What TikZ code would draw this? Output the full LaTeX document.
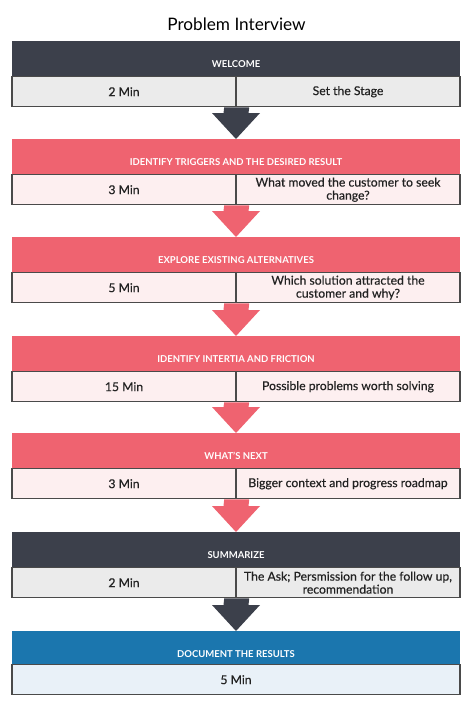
\documentclass[tikz,border=0pt]{standalone}
\usepackage{fontspec}
\setmainfont{Lato}
\newfontfamily\medfont[FakeBold=0.35]{Lato}
\usetikzlibrary{calc}
\definecolor{darkhd}{HTML}{3C404B}
\definecolor{pinkhd}{HTML}{EF6370}
\definecolor{bluehd}{HTML}{1B76AE}
\definecolor{grayrow}{HTML}{EBEBEB}
\definecolor{pinkrow}{HTML}{FDEFF0}
\definecolor{bluerow}{HTML}{E9F1F8}
\definecolor{rowline}{HTML}{4A4A4A}
\definecolor{txt}{HTML}{222222}
\newcommand{\flowarrow}[3]{%
  \fill[#3] ($(#1)+(-12.5,0)$) -- ($(#1)+(12.5,0)$) -- ($(#2)+(12.5,-26)$)
    -- ($(#2)+(24,-26)$) -- (#2) -- ($(#2)+(-24,-26)$) -- ($(#2)+(-12.5,-26)$) -- cycle;}
\begin{document}
\begin{tikzpicture}[x=1pt,y=-1pt,
  hdr/.style={rectangle, inner sep=0pt, minimum width=448pt, minimum height=35pt,
    text height=17pt, text depth=0pt, text=white, anchor=north,
    font=\bfseries\fontsize{9.5}{10}\selectfont},
  cell/.style={rectangle, inner sep=0pt, minimum width=224pt, minimum height=30pt,
    draw=rowline, line width=1.4pt, text=txt, align=center, anchor=north,
    font=\medfont\fontsize{12.2}{13}\selectfont},
  wide/.style={cell, minimum width=448pt}
]
\useasboundingbox (0,0) rectangle (474,705);
\fill[white] (0,0) rectangle (474,705);

\node[font=\fontsize{17.2}{20}\selectfont, text=black, anchor=base] (title) at (236.5,30) {Problem Interview};

% headers
\node[hdr, fill=darkhd] (h1) at (236,41) {WELCOME};
\node[hdr, fill=pinkhd] (h2) at (236,139) {IDENTIFY TRIGGERS AND THE DESIRED RESULT};
\node[hdr, fill=pinkhd] (h3) at (236,237) {EXPLORE EXISTING ALTERNATIVES};
\node[hdr, fill=pinkhd] (h4) at (236,336) {IDENTIFY INTERTIA AND FRICTION};
\node[hdr, fill=pinkhd] (h5) at (236,433) {WHAT’S NEXT};
\node[hdr, fill=darkhd] (h6) at (236,532) {SUMMARIZE};
\node[hdr, fill=bluehd] (h7) at (236,631) {DOCUMENT THE RESULTS};

% rows
\node[cell, fill=grayrow] (l1) at (124,76) {2 Min};
\node[cell, fill=grayrow] (r1) at (348,76) {Set the Stage};
\node[cell, fill=pinkrow] (l2) at (124,174) {3 Min};
\node[cell, fill=pinkrow] (r2) at (348,174) {What moved the customer to seek\\change?};
\node[cell, fill=pinkrow] (l3) at (124,272) {5 Min};
\node[cell, fill=pinkrow] (r3) at (348,272) {Which solution attracted the\\customer and why?};
\node[cell, fill=pinkrow] (l4) at (124,371) {15 Min};
\node[cell, fill=pinkrow] (r4) at (348,371) {Possible problems worth solving};
\node[cell, fill=pinkrow] (l5) at (124,468) {3 Min};
\node[cell, fill=pinkrow] (r5) at (348,468) {Bigger context and progress roadmap};
\node[cell, fill=grayrow] (l6) at (124,567) {2 Min};
\node[cell, fill=grayrow] (r6) at (348,567) {The Ask; Persmission for the follow up,\\recommendation};
\node[wide, fill=bluerow] (l7) at (236,664) {5 Min};

% arrows between steps
\flowarrow{l1.south east}{h2.north}{darkhd}
\flowarrow{l2.south east}{h3.north}{pinkhd}
\flowarrow{l3.south east}{h4.north}{pinkhd}
\flowarrow{l4.south east}{h5.north}{pinkhd}
\flowarrow{l5.south east}{h6.north}{pinkhd}
\flowarrow{l6.south east}{h7.north}{darkhd}
\end{tikzpicture}
\end{document}
